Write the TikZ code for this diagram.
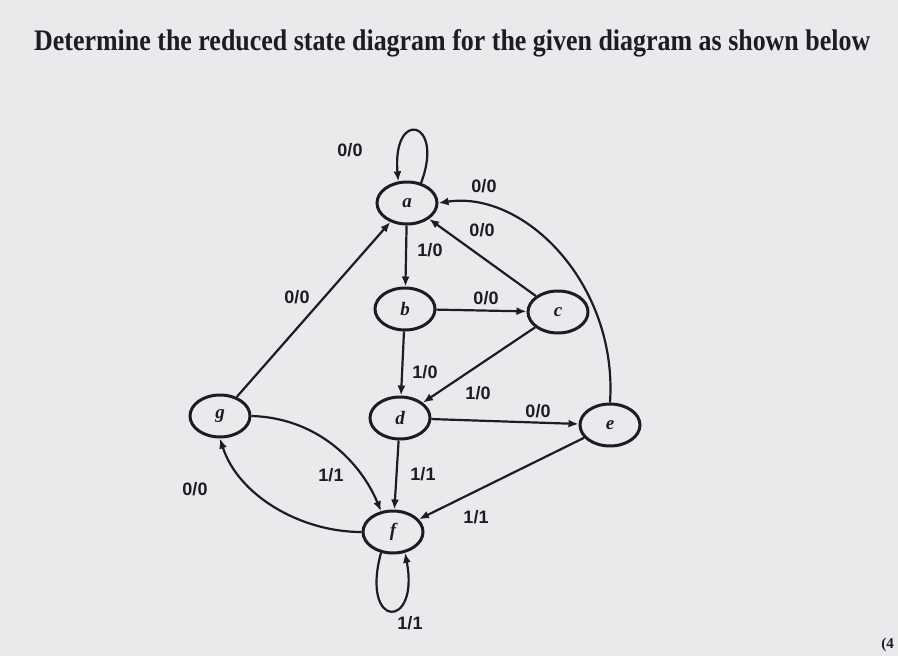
\documentclass[tikz,border=0pt]{standalone}
\usepackage{fontspec}
\setmainfont{Liberation Serif}
\setsansfont{Liberation Sans}
\usetikzlibrary{shapes.geometric,arrows.meta}
\definecolor{paper}{RGB}{234,234,236}
\definecolor{ink}{RGB}{28,28,38}

\begin{document}
\begin{tikzpicture}[x=1pt,y=-1pt,
  state/.style={draw=ink,ellipse,line width=3pt,minimum width=60pt,minimum height=42pt,
    inner sep=0pt,text=ink,font=\fontsize{19}{19}\selectfont\bfseries\itshape},
  trans/.style={draw=ink,line width=2.2pt,-{Latex[length=10pt,width=8pt]}},
  lbl/.style={inner sep=0pt,text=ink,font=\sffamily\bfseries\fontsize{18}{18}\selectfont}]
\fill[paper] (0,0) rectangle (898,656);
\useasboundingbox (0,0) rectangle (898,656);

% question
\node[anchor=base west,inner sep=0pt,text=ink] (title) at (34,50)
  {\resizebox{836pt}{21pt}{\bfseries Determine the reduced state diagram for the given diagram as shown below}};
\node[anchor=base east,inner sep=0pt,text=ink,font=\fontsize{15}{15}\selectfont\bfseries] (mark) at (894,648) {(4};

% states
\node[state] (a) at (407,203) {a};
\node[state] (b) at (405,309) {b};
\node[state] (c) at (558,312) {c};
\node[state] (d) at (400,418) {d};
\node[state] (e) at (610,425) {e};
\node[state] (g) at (220,416) {g};
\node[state] (f) at (393,532) {f};

% transitions
\draw[trans] (a.55) .. controls (445,120) and (392,108) .. (a.112);
\draw[trans] (a) -- (b);
\draw[trans] (b) -- (c);
\draw[trans] (c) -- (a);
\draw[trans] (e.north) .. controls (618,285) and (525,190) .. (a.east);
\draw[trans] (g) -- (a);
\draw[trans] (b) -- (d);
\draw[trans] (c) -- (d);
\draw[trans] (d) -- (e);
\draw[trans] (d) -- (f);
\draw[trans] (e) -- (f);
\draw[trans] (g.east) .. controls (320,418) and (362,465) .. (f.120);
\draw[trans] (f.west) .. controls (300,532) and (238,495) .. (g.south);
\draw[trans] (f.240) .. controls (360,630) and (420,630) .. (f.300);

% labels
\node[lbl] (la) at (350,150) {0/0};
\node[lbl] (lea) at (484,186) {0/0};
\node[lbl] (lca) at (482,230) {0/0};
\node[lbl] (lab) at (430,250) {1/0};
\node[lbl] (lga) at (297,297) {0/0};
\node[lbl] (lbc) at (486,298) {0/0};
\node[lbl] (lbd) at (425,372) {1/0};
\node[lbl] (lcd) at (478,393) {1/0};
\node[lbl] (lde) at (538,411) {0/0};
\node[lbl] (lgf) at (331,475) {1/1};
\node[lbl] (ldf) at (423,474) {1/1};
\node[lbl] (lfg) at (195,489) {0/0};
\node[lbl] (lef) at (476,517) {1/1};
\node[lbl] (lff) at (410,623) {1/1};
\end{tikzpicture}
\end{document}
